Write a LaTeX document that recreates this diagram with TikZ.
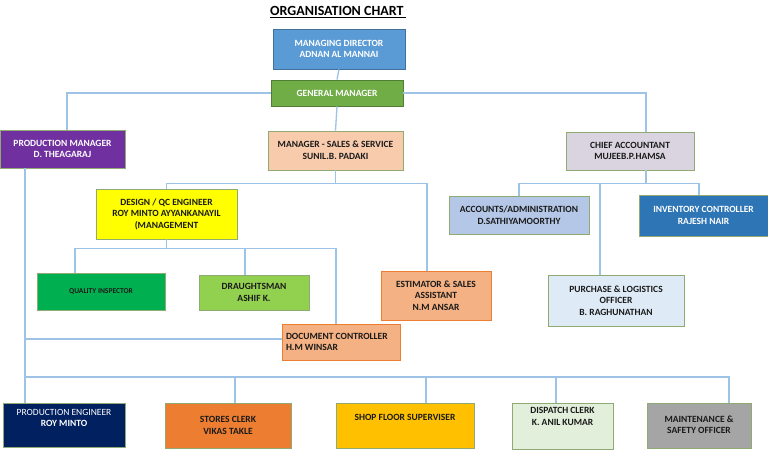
\documentclass[tikz,border=0pt]{standalone}
\usepackage{fontspec}
\setmainfont{Carlito}[BoldFont={Carlito Bold}]
\usetikzlibrary{calc}
\definecolor{conncol}{HTML}{9DC3E6}
\definecolor{bordgreen}{HTML}{8FAA73}
\definecolor{txtdark}{HTML}{1A1A1A}
\definecolor{cmd}{HTML}{5B9BD5}
\definecolor{cmdb}{HTML}{41719C}
\definecolor{cgm}{HTML}{70AD47}
\definecolor{cgmb}{HTML}{507E32}
\definecolor{cpm}{HTML}{7030A0}
\definecolor{csales}{HTML}{F8CBAD}
\definecolor{cca}{HTML}{D9D4DF}
\definecolor{cdes}{HTML}{FFFF00}
\definecolor{cqi}{HTML}{00B050}
\definecolor{cdr}{HTML}{92D050}
\definecolor{cest}{HTML}{F4B183}
\definecolor{cestb}{HTML}{ED7D31}
\definecolor{cacc}{HTML}{B4C7E7}
\definecolor{cinv}{HTML}{2E75B6}
\definecolor{cpur}{HTML}{DEEBF7}
\definecolor{cpe}{HTML}{002060}
\definecolor{csc}{HTML}{ED7D31}
\definecolor{csfs}{HTML}{FFC000}
\definecolor{cdc}{HTML}{E2EFDA}
\definecolor{cmso}{HTML}{A5A5A5}
\tikzset{
  box/.style={draw=bordgreen, line width=0.9pt, rectangle, align=center, inner sep=2pt,
    font=\bfseries\fontsize{9.5}{11.5}\selectfont, text=txtdark},
  conn/.style={draw=conncol, line width=1.3pt},
}
\begin{document}
\begin{tikzpicture}[x=1pt,y=-1pt]
\useasboundingbox (0,0) rectangle (768,461);
\fill[white] (0,0) rectangle (768,461);

\node[font=\bfseries\fontsize{14}{16}\selectfont, text=black] (title) at (338,12) {\underline{ORGANISATION CHART\,}};

\node[box, fill=cmd, draw=cmdb, text=white, minimum width=132, minimum height=40] (md) at (339,49) {MANAGING DIRECTOR\\ADNAN AL MANNAI};
\node[box, fill=cgm, draw=cgmb, text=white, minimum width=132, minimum height=26] (gm) at (337,93) {GENERAL MANAGER};
\node[box, fill=cpm, text=white, minimum width=125, minimum height=38] (pm) at (62.5,149) {PRODUCTION MANAGER\\D. THEAGARAJ};
\node[box, fill=csales, minimum width=135, minimum height=39] (sales) at (335.5,150.5) {MANAGER - SALES \& SERVICE\\SUNIL.B. PADAKI};
\node[box, fill=cca, minimum width=128, minimum height=38] (ca) at (630,151) {CHIEF ACCOUNTANT\\MUJEEB.P.HAMSA};

\node[box, fill=cdes, minimum width=141, minimum height=50] (design) at (166.5,214) {DESIGN / QC ENGINEER\\ROY MINTO AYYANKANAYIL\\(MANAGEMENT};
\node[box, fill=cqi, minimum width=128, minimum height=37, font=\bfseries\fontsize{7.5}{9}\selectfont] (qi) at (101,291.5) {QUALITY INSPECTOR};
\node[box, fill=cdr, minimum width=110, minimum height=35] (dr) at (254,292.5) {DRAUGHTSMAN\\ASHIF K.};
\node[box, fill=cest, draw=cestb, minimum width=110, minimum height=49] (est) at (436,295.5) {ESTIMATOR \& SALES\\ASSISTANT\\N.M ANSAR};
\node[box, fill=cest, draw=cestb, minimum height=36, text width=110, align=flush left, inner xsep=4pt] (doc) at (341,342) {DOCUMENT CONTROLLER\\H.M WINSAR};

\node[box, fill=cacc, minimum width=140, minimum height=38] (acc) at (519,215) {ACCOUNTS/ADMINISTRATION\\D.SATHIYAMOORTHY};
\node[box, fill=cinv, text=white, minimum width=129, minimum height=41] (inv) at (703.5,215.5) {INVENTORY CONTROLLER\\RAJESH NAIR};
\node[box, fill=cpur, minimum width=136, minimum height=51] (pur) at (616,300.5) {PURCHASE \& LOGISTICS\\OFFICER\\B. RAGHUNATHAN};

\node[box, fill=cpe, text=white, minimum width=122, minimum height=44] (pe) at (64,425) {{\mdseries PRODUCTION ENGINEER}\\ROY MINTO\\[3pt]};
\node[box, fill=csc, minimum width=126, minimum height=45] (sc) at (228,425.5) {STORES CLERK\\VIKAS TAKLE};
\node[box, fill=csfs, minimum width=138, minimum height=45] (sfs) at (405,425.5) {SHOP FLOOR SUPERVISER\\[4pt]};
\node[box, fill=cdc, minimum width=101, minimum height=46] (dc) at (562.5,426) {DISPATCH CLERK\\K. ANIL KUMAR\\[8pt]};
\node[box, fill=cmso, minimum width=104, minimum height=45] (mso) at (699,425.5) {\\[-6pt]MAINTENANCE \&\\SAFETY OFFICER};

% connectors
\draw[conn] (md.south) -- (gm.north);
\draw[conn] (gm.west) -| ([xshift=4.5pt]pm.north);
\draw[conn] (gm.east) -| ([xshift=16pt]ca.north);
\draw[conn] (gm.south) -- (sales.north);

\draw[conn] (sales.south) -- ++(0,13) coordinate (sb);
\draw[conn] (design.north) |- (sb);
\draw[conn] ([xshift=-9pt]est.north) |- (sb);

\draw[conn] (design.south) -- ++(0,9) coordinate (db);
\draw[conn] ([xshift=-26pt]qi.north) |- (db);
\draw[conn] ([xshift=-9pt]dr.north) |- (db);
\draw[conn] ([xshift=-5pt]doc.north) |- (db);

\draw[conn] ([xshift=16pt]ca.south) -- ++(0,13) coordinate (cb);
\draw[conn] (acc.north) |- (cb);
\draw[conn] ([xshift=-4.5pt]inv.north) |- (cb);
\draw[conn] ([xshift=-16pt]pur.north) |- (cb);

\coordinate (pmx) at ([xshift=-37.5pt]pm.south);
\draw[conn] (pmx) -- (pmx |- pe.north);
\draw[conn] ([yshift=3pt]doc.west) -- ([yshift=3pt]doc.west -| pmx);
\coordinate (bl) at (pmx |- 0,377);
\draw[conn] (bl) -| ([xshift=30pt]mso.north);
\draw[conn] ([xshift=7pt]sc.north) -- ([xshift=7pt]sc.north |- bl);
\draw[conn] ([xshift=21pt]sfs.north) -- ([xshift=21pt]sfs.north |- bl);
\draw[conn] ([xshift=-6.5pt]dc.north) -- ([xshift=-6.5pt]dc.north |- bl);
\end{tikzpicture}
\end{document}
